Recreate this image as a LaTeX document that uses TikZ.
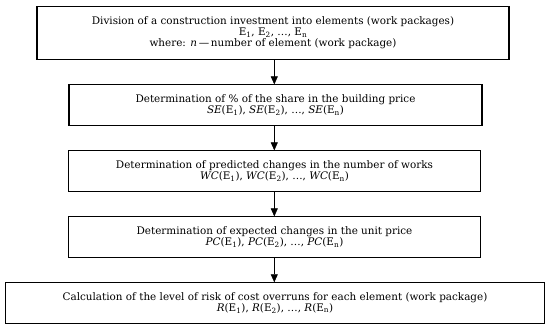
\documentclass[tikz,border=0pt]{standalone}
\usepackage{fontspec}
\setmainfont{DejaVu Serif}
\usetikzlibrary{arrows.meta}
\newcommand{\Es}[1]{E\textsubscript{#1}}
\begin{document}
\begin{tikzpicture}[x=1pt,y=-1pt,
  box/.style={draw, line width=1.1pt, align=center, inner sep=0pt,
    font=\fontsize{10.4}{11}\selectfont},
  arr/.style={line width=0.6pt, -{Triangle[length=8pt,width=7pt]}}]
\useasboundingbox (0,0) rectangle (550,329);
\node[box, minimum width=472pt, minimum height=52.6pt] (b1) at (273,33)
  {Division of a construction investment into elements (work packages)\\
   \Es{1}, \Es{2}, \dots, \Es{n}\\
   where: \textit{n}\,—\,number of element (work package)};
\node[box, minimum width=413pt, minimum height=40.7pt] (b2) at (275.5,105.3)
  {Determination of \% of the share in the building price\\
   \textit{SE}(\Es{1}), \textit{SE}(\Es{2}), \dots, \textit{SE}(\Es{n})};
\node[box, minimum width=412.4pt, minimum height=40.7pt] (b3) at (274.5,171.3)
  {Determination of predicted changes in the number of works\\
   \textit{WC}(\Es{1}), \textit{WC}(\Es{2}), \dots, \textit{WC}(\Es{n})};
\node[box, minimum width=412.4pt, minimum height=40.7pt] (b4) at (274.5,237.3)
  {Determination of expected changes in the unit price\\
   \textit{PC}(\Es{1}), \textit{PC}(\Es{2}), \dots, \textit{PC}(\Es{n})};
\node[box, minimum width=539.7pt, minimum height=40.3pt] (b5) at (275,303)
  {Calculation of the level of risk of cost overruns for each element (work package)\\
   \textit{R}(\Es{1}), \textit{R}(\Es{2}), \dots, \textit{R}(\Es{n})};
\coordinate (ax) at (274.3,0);
\draw[arr] (b1.south -| ax) -- (b2.north -| ax);
\draw[arr] (b2.south -| ax) -- (b3.north -| ax);
\draw[arr] (b3.south -| ax) -- (b4.north -| ax);
\draw[arr] (b4.south -| ax) -- (b5.north -| ax);
\end{tikzpicture}
\end{document}
